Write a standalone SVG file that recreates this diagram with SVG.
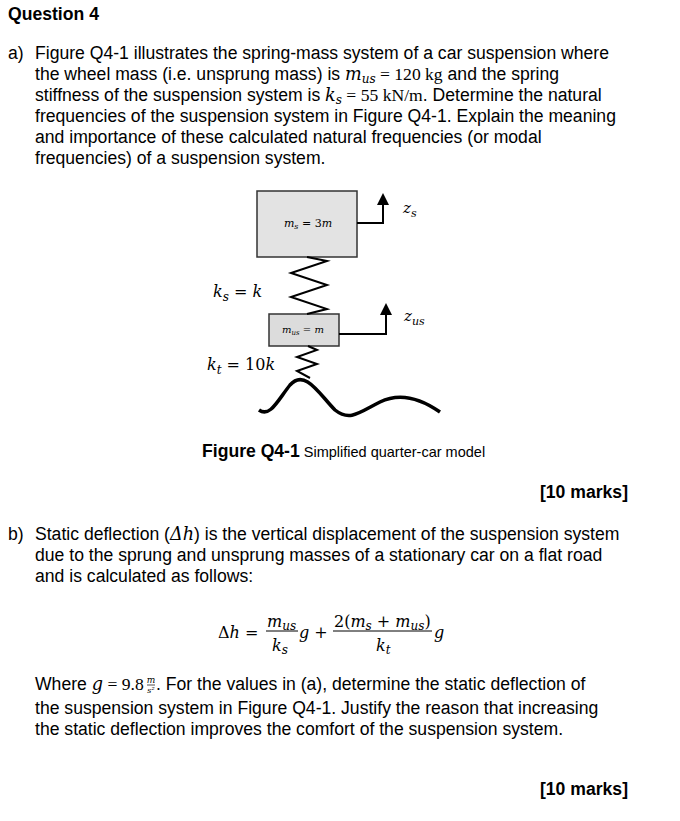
<svg xmlns="http://www.w3.org/2000/svg" width="680" height="821" viewBox="0 0 680 821">
<style>
.t{font-family:"Liberation Sans",Arial,sans-serif;font-size:17.6px;fill:#000}
.b{font-weight:bold}
.m{font-family:"DejaVu Serif","Liberation Serif",serif;font-style:italic;fill:#000}
.r{font-family:"Liberation Serif",serif;fill:#000}
.ln{fill:none;stroke:#000;stroke-width:2}
</style>
<defs><marker id="ah" markerWidth="12" markerHeight="12" refX="6" refY="6" orient="auto" markerUnits="userSpaceOnUse"><path d="M0,0 L12,6 L0,12 Z" fill="#000"/></marker></defs>
<rect width="680" height="821" fill="#fff"/>
<text class="t b" x="8" y="20" font-size="17">Question 4</text>
<text class="t" x="8" y="59">a)</text>
<text class="t" x="35" y="59">Figure Q4-1 illustrates the spring-mass system of a car suspension where</text>
<text class="t" x="35" y="80">the wheel mass (i.e. unsprung mass) is <tspan class="m">m<tspan font-size="12" dy="3">us</tspan></tspan><tspan dy="-3" class="r"> = 120 kg</tspan> and the spring</text>
<text class="t" x="35" y="101">stiffness of the suspension system is <tspan class="m">k<tspan font-size="12" dy="3">s</tspan></tspan><tspan dy="-3" class="r"> = 55 kN/m</tspan>. Determine the natural</text>
<text class="t" x="35" y="122">frequencies of the suspension system in Figure Q4-1. Explain the meaning</text>
<text class="t" x="35" y="143">and importance of these calculated natural frequencies (or modal</text>
<text class="t" x="35" y="164">frequencies) of a suspension system.</text>
<g id="sprung"><rect x="257" y="191" width="100" height="66" fill="#e3e3e3" stroke="#333" stroke-width="1.5"/><text class="m" x="308" y="227" font-size="11" text-anchor="middle">m<tspan font-size="8" dy="2">s</tspan><tspan dy="-2" font-style="normal"> = 3</tspan>m</text></g>
<g id="unsprung"><rect x="269" y="314" width="70" height="32" fill="#dcdcdc" stroke="#333" stroke-width="1.5"/><text class="m" x="303" y="333" font-size="10" text-anchor="middle">m<tspan font-size="7" dy="2">us</tspan><tspan dy="-2" font-style="normal"> = </tspan>m</text></g>
<g id="connectors">
<path class="ln" d="M307,257 L327,261 L291,273 L327,285 L291,297 L327,309 L307,314"/>
<path class="ln" d="M308,346 L317,350 L297,357 L317,364 L297,371 L310,378"/>
<path class="ln" d="M357,223 H383 V199" stroke-width="1.5" marker-end="url(#ah)"/>
<path class="ln" d="M339,334 H386 V309" stroke-width="1.5" marker-end="url(#ah)"/>
<path d="M259,410 C270,418 278,400 290,385 C305,368 320,395 335,410 C350,422 360,412 380,402 C400,392 420,398 440,412" fill="none" stroke="#000" stroke-width="3.5"/>
</g>
<text class="m" x="403" y="213" font-size="15">z<tspan font-size="11" dy="4">s</tspan></text>
<text class="m" x="404" y="321" font-size="15">z<tspan font-size="11" dy="4">us</tspan></text>
<text class="m" x="213" y="297" font-size="16">k<tspan font-size="12" dy="4">s</tspan><tspan dy="-4" font-style="normal"> = </tspan>k</text>
<text class="m" x="207" y="370" font-size="16">k<tspan font-size="12" dy="4">t</tspan><tspan dy="-4" font-style="normal"> = 10</tspan>k</text>
<text class="t" x="202" y="457"><tspan class="b">Figure Q4-1</tspan><tspan font-size="14.5"> Simplified quarter-car model</tspan></text>
<text class="t b" x="628" y="498" text-anchor="end">[10 marks]</text>
<text class="t" x="8" y="540">b)</text>
<text class="t" x="35" y="540">Static deflection (<tspan class="m">Δh</tspan>) is the vertical displacement of the suspension system</text>
<text class="t" x="35" y="561">due to the sprung and unsprung masses of a stationary car on a flat road</text>
<text class="t" x="35" y="582">and is calculated as follows:</text>
<g id="formula" class="m" font-size="16">
<text x="218" y="638" font-style="normal">Δ<tspan font-style="italic">h</tspan> =</text>
<text x="267" y="627">m<tspan font-size="12" dy="3">us</tspan></text>
<line x1="266" y1="631" x2="298" y2="631" stroke="#000" stroke-width="1"/>
<text x="272" y="651">k<tspan font-size="12" dy="3">s</tspan></text>
<text x="299" y="638">g +</text>
<text x="334" y="627"><tspan font-style="normal">2(</tspan>m<tspan font-size="12" dy="3">s</tspan><tspan dy="-3" font-style="normal"> + </tspan>m<tspan font-size="12" dy="3">us</tspan><tspan dy="-3" font-style="normal">)</tspan></text>
<line x1="333" y1="631" x2="432" y2="631" stroke="#000" stroke-width="1"/>
<text x="376" y="651">k<tspan font-size="12" dy="3">t</tspan></text>
<text x="434" y="638">g</text>
</g>
<text class="t" x="35" y="690">Where <tspan class="m">g</tspan><tspan class="r"> = 9.8</tspan></text>
<text class="m" x="151" y="683" font-size="9" text-anchor="middle">m</text>
<line x1="147" y1="685" x2="155" y2="685" stroke="#000" stroke-width="0.7"/>
<text class="m" x="151" y="693" font-size="8" text-anchor="middle">s²</text>
<text class="t" x="156" y="690">. For the values in (a), determine the static deflection of</text>
<text class="t" x="35" y="714">the suspension system in Figure Q4-1. Justify the reason that increasing</text>
<text class="t" x="35" y="735">the static deflection improves the comfort of the suspension system.</text>
<text class="t b" x="628" y="795" text-anchor="end">[10 marks]</text>
</svg>
